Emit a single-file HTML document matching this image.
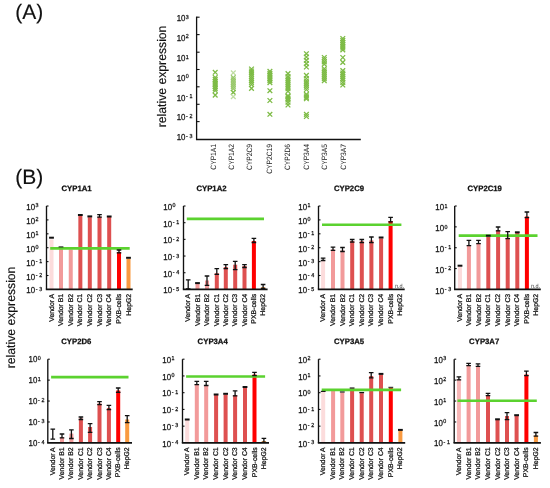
<!DOCTYPE html>
<html><head><meta charset="utf-8"><style>
html,body{margin:0;padding:0;background:#fff;}
svg{display:block;font-family:"Liberation Sans", sans-serif;will-change:transform;text-rendering:geometricPrecision;}
.s{stroke:#111;stroke-width:0.26px;}
.b{stroke:#111;stroke-width:0.15px;}
</style></head><body>
<svg width="550" height="488" viewBox="0 0 550 488">
<rect width="550" height="488" fill="#fff"/>
<text x="15.2" y="19.2" font-size="21" fill="#111" stroke="#111" stroke-width="0.15">(A)</text>
<text x="15.3" y="183.9" font-size="21" fill="#111" stroke="#111" stroke-width="0.15">(B)</text>
<line x1="196.6" y1="16.6" x2="196.6" y2="139.5" stroke="#111" stroke-width="1.3"/>
<line x1="196.6" y1="17.2" x2="199.6" y2="17.2" stroke="#111" stroke-width="1.1"/>
<line x1="196.6" y1="34.6" x2="199.6" y2="34.6" stroke="#111" stroke-width="1.1"/>
<line x1="196.6" y1="52.2" x2="199.6" y2="52.2" stroke="#111" stroke-width="1.1"/>
<line x1="196.6" y1="69.5" x2="199.6" y2="69.5" stroke="#111" stroke-width="1.1"/>
<line x1="196.6" y1="86.8" x2="199.6" y2="86.8" stroke="#111" stroke-width="1.1"/>
<line x1="196.6" y1="104.3" x2="199.6" y2="104.3" stroke="#111" stroke-width="1.1"/>
<line x1="196.6" y1="121.6" x2="199.6" y2="121.6" stroke="#111" stroke-width="1.1"/>
<line x1="195.95" y1="139.5" x2="360.8" y2="139.5" stroke="#111" stroke-width="1.3"/>
<text class="s" transform="translate(176.64,21.38) scale(0.92,1)" font-size="8.6" fill="#1a1a1a">10<tspan font-size="5.8" dy="-2.6" dx="0.4">3</tspan></text>
<text class="s" transform="translate(176.64,41.08) scale(0.92,1)" font-size="8.6" fill="#1a1a1a">10<tspan font-size="5.8" dy="-2.6" dx="0.4">2</tspan></text>
<text class="s" transform="translate(176.64,61.18) scale(0.92,1)" font-size="8.6" fill="#1a1a1a">10<tspan font-size="5.8" dy="-2.6" dx="0.4">1</tspan></text>
<text class="s" transform="translate(176.64,80.88) scale(0.92,1)" font-size="8.6" fill="#1a1a1a">10<tspan font-size="5.8" dy="-2.6" dx="0.4">0</tspan></text>
<text class="s" transform="translate(176.64,101.08) scale(0.92,1)" font-size="8.6" fill="#1a1a1a">10<tspan font-size="5.8" dy="-2.6" dx="0.6">-</tspan><tspan font-size="5.8" dx="2.0">1</tspan></text>
<text class="s" transform="translate(176.64,120.48) scale(0.92,1)" font-size="8.6" fill="#1a1a1a">10<tspan font-size="5.8" dy="-2.6" dx="0.6">-</tspan><tspan font-size="5.8" dx="2.0">2</tspan></text>
<text class="s" transform="translate(176.64,140.18) scale(0.92,1)" font-size="8.6" fill="#1a1a1a">10<tspan font-size="5.8" dy="-2.6" dx="0.6">-</tspan><tspan font-size="5.8" dx="2.0">3</tspan></text>
<text transform="translate(216.25,144.00) rotate(-90) scale(1,1.15)" text-anchor="end" font-size="6.7" fill="#1a1a1a">CYP1A1</text>
<text transform="translate(233.85,144.00) rotate(-90) scale(1,1.15)" text-anchor="end" font-size="6.7" fill="#1a1a1a">CYP1A2</text>
<text transform="translate(252.45,144.00) rotate(-90) scale(1,1.15)" text-anchor="end" font-size="6.7" fill="#1a1a1a">CYP2C9</text>
<text transform="translate(272.15,144.00) rotate(-90) scale(1,1.15)" text-anchor="end" font-size="6.7" fill="#1a1a1a">CYP2C19</text>
<text transform="translate(290.15,144.00) rotate(-90) scale(1,1.15)" text-anchor="end" font-size="6.7" fill="#1a1a1a">CYP2D6</text>
<text transform="translate(309.05,144.00) rotate(-90) scale(1,1.15)" text-anchor="end" font-size="6.7" fill="#1a1a1a">CYP3A4</text>
<text transform="translate(327.05,144.00) rotate(-90) scale(1,1.15)" text-anchor="end" font-size="6.7" fill="#1a1a1a">CYP3A5</text>
<text transform="translate(345.75,144.00) rotate(-90) scale(1,1.15)" text-anchor="end" font-size="6.7" fill="#1a1a1a">CYP3A7</text>
<text class="b" transform="translate(165.60,76.40) rotate(-90) scale(1,1.02)" text-anchor="middle" font-size="12.2" fill="#111">relative expression</text>
<path d="M212.85 69.95L217.55 74.65M212.85 74.65L217.55 69.95" stroke="#7dbb45" stroke-width="1.3" fill="none"/>
<path d="M212.85 75.15L217.55 79.85M212.85 79.85L217.55 75.15" stroke="#7dbb45" stroke-width="1.3" fill="none"/>
<path d="M212.85 77.01L217.55 81.71M212.85 81.71L217.55 77.01" stroke="#7dbb45" stroke-width="1.3" fill="none"/>
<path d="M212.85 78.86L217.55 83.56M212.85 83.56L217.55 78.86" stroke="#7dbb45" stroke-width="1.3" fill="none"/>
<path d="M212.85 80.72L217.55 85.42M212.85 85.42L217.55 80.72" stroke="#7dbb45" stroke-width="1.3" fill="none"/>
<path d="M212.85 82.58L217.55 87.28M212.85 87.28L217.55 82.58" stroke="#7dbb45" stroke-width="1.3" fill="none"/>
<path d="M212.85 84.44L217.55 89.14M212.85 89.14L217.55 84.44" stroke="#7dbb45" stroke-width="1.3" fill="none"/>
<path d="M212.85 86.29L217.55 90.99M212.85 90.99L217.55 86.29" stroke="#7dbb45" stroke-width="1.3" fill="none"/>
<path d="M212.85 88.15L217.55 92.85M212.85 92.85L217.55 88.15" stroke="#7dbb45" stroke-width="1.3" fill="none"/>
<path d="M212.85 92.75L217.55 97.45M212.85 97.45L217.55 92.75" stroke="#7dbb45" stroke-width="1.3" fill="none"/>
<path d="M230.95 70.45L235.65 75.15M230.95 75.15L235.65 70.45" stroke="#bedca0" stroke-width="1.3" fill="none"/>
<path d="M230.95 75.25L235.65 79.95M230.95 79.95L235.65 75.25" stroke="#98c86a" stroke-width="1.3" fill="none"/>
<path d="M230.95 77.45L235.65 82.15M230.95 82.15L235.65 77.45" stroke="#98c86a" stroke-width="1.3" fill="none"/>
<path d="M230.95 79.65L235.65 84.35M230.95 84.35L235.65 79.65" stroke="#98c86a" stroke-width="1.3" fill="none"/>
<path d="M230.95 81.85L235.65 86.55M230.95 86.55L235.65 81.85" stroke="#98c86a" stroke-width="1.3" fill="none"/>
<path d="M230.95 84.05L235.65 88.75M230.95 88.75L235.65 84.05" stroke="#98c86a" stroke-width="1.3" fill="none"/>
<path d="M230.95 86.25L235.65 90.95M230.95 90.95L235.65 86.25" stroke="#98c86a" stroke-width="1.3" fill="none"/>
<path d="M230.95 90.05L235.65 94.75M230.95 94.75L235.65 90.05" stroke="#7dbb45" stroke-width="1.3" fill="none"/>
<path d="M230.95 94.35L235.65 99.05M230.95 99.05L235.65 94.35" stroke="#bedca0" stroke-width="1.3" fill="none"/>
<path d="M249.15 66.65L253.85 71.35M249.15 71.35L253.85 66.65" stroke="#7dbb45" stroke-width="1.3" fill="none"/>
<path d="M249.15 68.59L253.85 73.29M249.15 73.29L253.85 68.59" stroke="#7dbb45" stroke-width="1.3" fill="none"/>
<path d="M249.15 70.53L253.85 75.22M249.15 75.22L253.85 70.53" stroke="#7dbb45" stroke-width="1.3" fill="none"/>
<path d="M249.15 72.46L253.85 77.16M249.15 77.16L253.85 72.46" stroke="#7dbb45" stroke-width="1.3" fill="none"/>
<path d="M249.15 74.40L253.85 79.10M249.15 79.10L253.85 74.40" stroke="#7dbb45" stroke-width="1.3" fill="none"/>
<path d="M249.15 76.34L253.85 81.04M249.15 81.04L253.85 76.34" stroke="#7dbb45" stroke-width="1.3" fill="none"/>
<path d="M249.15 78.28L253.85 82.97M249.15 82.97L253.85 78.28" stroke="#7dbb45" stroke-width="1.3" fill="none"/>
<path d="M249.15 80.21L253.85 84.91M249.15 84.91L253.85 80.21" stroke="#7dbb45" stroke-width="1.3" fill="none"/>
<path d="M249.15 82.15L253.85 86.85M249.15 86.85L253.85 82.15" stroke="#7dbb45" stroke-width="1.3" fill="none"/>
<path d="M249.15 86.05L253.85 90.75M249.15 90.75L253.85 86.05" stroke="#7dbb45" stroke-width="1.3" fill="none"/>
<path d="M267.55 69.05L272.25 73.75M267.55 73.75L272.25 69.05" stroke="#7dbb45" stroke-width="1.3" fill="none"/>
<path d="M267.55 70.92L272.25 75.62M267.55 75.62L272.25 70.92" stroke="#7dbb45" stroke-width="1.3" fill="none"/>
<path d="M267.55 72.78L272.25 77.48M267.55 77.48L272.25 72.78" stroke="#7dbb45" stroke-width="1.3" fill="none"/>
<path d="M267.55 74.65L272.25 79.35M267.55 79.35L272.25 74.65" stroke="#7dbb45" stroke-width="1.3" fill="none"/>
<path d="M267.55 76.52L272.25 81.22M267.55 81.22L272.25 76.52" stroke="#7dbb45" stroke-width="1.3" fill="none"/>
<path d="M267.55 78.38L272.25 83.08M267.55 83.08L272.25 78.38" stroke="#7dbb45" stroke-width="1.3" fill="none"/>
<path d="M267.55 80.25L272.25 84.95M267.55 84.95L272.25 80.25" stroke="#7dbb45" stroke-width="1.3" fill="none"/>
<path d="M267.55 88.35L272.25 93.05M267.55 93.05L272.25 88.35" stroke="#7dbb45" stroke-width="1.3" fill="none"/>
<path d="M267.55 98.15L272.25 102.85M267.55 102.85L272.25 98.15" stroke="#7dbb45" stroke-width="1.3" fill="none"/>
<path d="M267.55 111.95L272.25 116.65M267.55 116.65L272.25 111.95" stroke="#7dbb45" stroke-width="1.3" fill="none"/>
<path d="M285.65 71.25L290.35 75.95M285.65 75.95L290.35 71.25" stroke="#7dbb45" stroke-width="1.3" fill="none"/>
<path d="M285.65 74.25L290.35 78.95M285.65 78.95L290.35 74.25" stroke="#7dbb45" stroke-width="1.3" fill="none"/>
<path d="M285.65 76.45L290.35 81.15M285.65 81.15L290.35 76.45" stroke="#7dbb45" stroke-width="1.3" fill="none"/>
<path d="M285.65 78.45L290.35 83.15M285.65 83.15L290.35 78.45" stroke="#7dbb45" stroke-width="1.3" fill="none"/>
<path d="M285.65 80.45L290.35 85.15M285.65 85.15L290.35 80.45" stroke="#7dbb45" stroke-width="1.3" fill="none"/>
<path d="M285.65 82.45L290.35 87.15M285.65 87.15L290.35 82.45" stroke="#7dbb45" stroke-width="1.3" fill="none"/>
<path d="M285.65 84.45L290.35 89.15M285.65 89.15L290.35 84.45" stroke="#7dbb45" stroke-width="1.3" fill="none"/>
<path d="M285.65 86.45L290.35 91.15M285.65 91.15L290.35 86.45" stroke="#7dbb45" stroke-width="1.3" fill="none"/>
<path d="M285.65 88.95L290.35 93.65M285.65 93.65L290.35 88.95" stroke="#7dbb45" stroke-width="1.3" fill="none"/>
<path d="M285.65 93.55L290.35 98.25M285.65 98.25L290.35 93.55" stroke="#7dbb45" stroke-width="1.3" fill="none"/>
<path d="M285.65 94.15L290.35 98.85M285.65 98.85L290.35 94.15" stroke="#7dbb45" stroke-width="1.3" fill="none"/>
<path d="M285.65 95.80L290.35 100.50M285.65 100.50L290.35 95.80" stroke="#7dbb45" stroke-width="1.3" fill="none"/>
<path d="M285.65 97.45L290.35 102.15M285.65 102.15L290.35 97.45" stroke="#7dbb45" stroke-width="1.3" fill="none"/>
<path d="M285.65 99.95L290.35 104.65M285.65 104.65L290.35 99.95" stroke="#7dbb45" stroke-width="1.3" fill="none"/>
<path d="M285.65 102.65L290.35 107.35M285.65 107.35L290.35 102.65" stroke="#7dbb45" stroke-width="1.3" fill="none"/>
<path d="M304.05 51.35L308.75 56.05M304.05 56.05L308.75 51.35" stroke="#7dbb45" stroke-width="1.3" fill="none"/>
<path d="M304.05 54.65L308.75 59.35M304.05 59.35L308.75 54.65" stroke="#7dbb45" stroke-width="1.3" fill="none"/>
<path d="M304.05 57.95L308.75 62.65M304.05 62.65L308.75 57.95" stroke="#7dbb45" stroke-width="1.3" fill="none"/>
<path d="M304.05 61.25L308.75 65.95M304.05 65.95L308.75 61.25" stroke="#7dbb45" stroke-width="1.3" fill="none"/>
<path d="M304.05 64.65L308.75 69.35M304.05 69.35L308.75 64.65" stroke="#7dbb45" stroke-width="1.3" fill="none"/>
<path d="M304.05 73.05L308.75 77.75M304.05 77.75L308.75 73.05" stroke="#7dbb45" stroke-width="1.3" fill="none"/>
<path d="M304.05 76.15L308.75 80.85M304.05 80.85L308.75 76.15" stroke="#7dbb45" stroke-width="1.3" fill="none"/>
<path d="M304.05 78.65L308.75 83.35M304.05 83.35L308.75 78.65" stroke="#7dbb45" stroke-width="1.3" fill="none"/>
<path d="M304.05 80.75L308.75 85.45M304.05 85.45L308.75 80.75" stroke="#7dbb45" stroke-width="1.3" fill="none"/>
<path d="M304.05 82.85L308.75 87.55M304.05 87.55L308.75 82.85" stroke="#7dbb45" stroke-width="1.3" fill="none"/>
<path d="M304.05 84.95L308.75 89.65M304.05 89.65L308.75 84.95" stroke="#7dbb45" stroke-width="1.3" fill="none"/>
<path d="M304.05 87.15L308.75 91.85M304.05 91.85L308.75 87.15" stroke="#7dbb45" stroke-width="1.3" fill="none"/>
<path d="M304.05 91.95L308.75 96.65M304.05 96.65L308.75 91.95" stroke="#7dbb45" stroke-width="1.3" fill="none"/>
<path d="M304.05 93.65L308.75 98.35M304.05 98.35L308.75 93.65" stroke="#7dbb45" stroke-width="1.3" fill="none"/>
<path d="M304.05 95.15L308.75 99.85M304.05 99.85L308.75 95.15" stroke="#7dbb45" stroke-width="1.3" fill="none"/>
<path d="M304.05 96.45L308.75 101.15M304.05 101.15L308.75 96.45" stroke="#7dbb45" stroke-width="1.3" fill="none"/>
<path d="M304.05 112.05L308.75 116.75M304.05 116.75L308.75 112.05" stroke="#7dbb45" stroke-width="1.3" fill="none"/>
<path d="M304.05 114.15L308.75 118.85M304.05 118.85L308.75 114.15" stroke="#7dbb45" stroke-width="1.3" fill="none"/>
<path d="M321.95 55.15L326.65 59.85M321.95 59.85L326.65 55.15" stroke="#7dbb45" stroke-width="1.3" fill="none"/>
<path d="M321.95 57.15L326.65 61.85M321.95 61.85L326.65 57.15" stroke="#7dbb45" stroke-width="1.3" fill="none"/>
<path d="M321.95 59.50L326.65 64.20M321.95 64.20L326.65 59.50" stroke="#7dbb45" stroke-width="1.3" fill="none"/>
<path d="M321.95 61.85L326.65 66.55M321.95 66.55L326.65 61.85" stroke="#7dbb45" stroke-width="1.3" fill="none"/>
<path d="M321.95 66.45L326.65 71.15M321.95 71.15L326.65 66.45" stroke="#7dbb45" stroke-width="1.3" fill="none"/>
<path d="M321.95 68.45L326.65 73.15M321.95 73.15L326.65 68.45" stroke="#7dbb45" stroke-width="1.3" fill="none"/>
<path d="M321.95 70.45L326.65 75.15M321.95 75.15L326.65 70.45" stroke="#7dbb45" stroke-width="1.3" fill="none"/>
<path d="M321.95 72.45L326.65 77.15M321.95 77.15L326.65 72.45" stroke="#7dbb45" stroke-width="1.3" fill="none"/>
<path d="M321.95 74.45L326.65 79.15M321.95 79.15L326.65 74.45" stroke="#7dbb45" stroke-width="1.3" fill="none"/>
<path d="M321.95 76.45L326.65 81.15M321.95 81.15L326.65 76.45" stroke="#7dbb45" stroke-width="1.3" fill="none"/>
<path d="M321.95 78.45L326.65 83.15M321.95 83.15L326.65 78.45" stroke="#7dbb45" stroke-width="1.3" fill="none"/>
<path d="M340.45 36.15L345.15 40.85M340.45 40.85L345.15 36.15" stroke="#7dbb45" stroke-width="1.3" fill="none"/>
<path d="M340.45 38.05L345.15 42.75M340.45 42.75L345.15 38.05" stroke="#7dbb45" stroke-width="1.3" fill="none"/>
<path d="M340.45 39.95L345.15 44.65M340.45 44.65L345.15 39.95" stroke="#7dbb45" stroke-width="1.3" fill="none"/>
<path d="M340.45 41.85L345.15 46.55M340.45 46.55L345.15 41.85" stroke="#7dbb45" stroke-width="1.3" fill="none"/>
<path d="M340.45 43.75L345.15 48.45M340.45 48.45L345.15 43.75" stroke="#7dbb45" stroke-width="1.3" fill="none"/>
<path d="M340.45 45.65L345.15 50.35M340.45 50.35L345.15 45.65" stroke="#7dbb45" stroke-width="1.3" fill="none"/>
<path d="M340.45 47.55L345.15 52.25M340.45 52.25L345.15 47.55" stroke="#7dbb45" stroke-width="1.3" fill="none"/>
<path d="M340.45 55.15L345.15 59.85M340.45 59.85L345.15 55.15" stroke="#7dbb45" stroke-width="1.3" fill="none"/>
<path d="M340.45 60.05L345.15 64.75M340.45 64.75L345.15 60.05" stroke="#7dbb45" stroke-width="1.3" fill="none"/>
<path d="M340.45 68.25L345.15 72.95M340.45 72.95L345.15 68.25" stroke="#7dbb45" stroke-width="1.3" fill="none"/>
<path d="M340.45 70.65L345.15 75.35M340.45 75.35L345.15 70.65" stroke="#7dbb45" stroke-width="1.3" fill="none"/>
<path d="M340.45 72.40L345.15 77.10M340.45 77.10L345.15 72.40" stroke="#7dbb45" stroke-width="1.3" fill="none"/>
<path d="M340.45 74.15L345.15 78.85M340.45 78.85L345.15 74.15" stroke="#7dbb45" stroke-width="1.3" fill="none"/>
<path d="M340.45 75.90L345.15 80.60M340.45 80.60L345.15 75.90" stroke="#7dbb45" stroke-width="1.3" fill="none"/>
<path d="M340.45 77.65L345.15 82.35M340.45 82.35L345.15 77.65" stroke="#7dbb45" stroke-width="1.3" fill="none"/>
<path d="M340.45 80.15L345.15 84.85M340.45 84.85L345.15 80.15" stroke="#7dbb45" stroke-width="1.3" fill="none"/>
<path d="M340.45 82.65L345.15 87.35M340.45 87.35L345.15 82.65" stroke="#7dbb45" stroke-width="1.3" fill="none"/>
<rect x="49.50" y="239.40" width="4.0" height="50.00" fill="#fcdcdc"/>
<rect x="59.00" y="247.00" width="4.0" height="42.40" fill="#f29a9a"/>
<rect x="68.75" y="249.50" width="4.0" height="39.90" fill="#f29a9a"/>
<rect x="78.35" y="216.00" width="4.0" height="73.40" fill="#de5050"/>
<rect x="87.80" y="217.20" width="4.0" height="72.20" fill="#de5050"/>
<rect x="97.50" y="216.80" width="4.0" height="72.60" fill="#de5050"/>
<rect x="107.20" y="217.00" width="4.0" height="72.40" fill="#de5050"/>
<rect x="117.00" y="252.00" width="4.0" height="37.40" fill="#ff0000"/>
<rect x="126.50" y="258.80" width="4.0" height="30.60" fill="#f99a40"/>
<line x1="50.2" y1="248.4" x2="129.7" y2="248.4" stroke="#5bd22f" stroke-width="2.6"/>
<rect x="49.10" y="236.70" width="4.8" height="2.0" fill="#111"/>
<rect x="58.60" y="246.40" width="4.8" height="1.0" fill="#111"/>
<rect x="77.95" y="214.00" width="4.8" height="2.0" fill="#111"/>
<rect x="87.40" y="215.40" width="4.8" height="2.0" fill="#111"/>
<path d="M97.20 214.60H101.80M99.50 214.60V217.20M97.20 217.20H101.80" stroke="#111" stroke-width="1.3" fill="none"/>
<rect x="106.80" y="215.50" width="4.8" height="2.0" fill="#111"/>
<path d="M116.70 250.00H121.30M119.00 250.00V252.90M116.70 252.90H121.30" stroke="#111" stroke-width="1.3" fill="none"/>
<rect x="126.10" y="256.80" width="4.8" height="2.0" fill="#111"/>
<line x1="46.5" y1="206.0" x2="46.5" y2="289.4" stroke="#111" stroke-width="1.35"/>
<line x1="45.83" y1="289.4" x2="132.7" y2="289.4" stroke="#111" stroke-width="1.65"/>
<line x1="46.5" y1="206.0" x2="48.5" y2="206.0" stroke="#111" stroke-width="1.1"/>
<line x1="46.5" y1="219.9" x2="48.5" y2="219.9" stroke="#111" stroke-width="1.1"/>
<line x1="46.5" y1="233.79999999999998" x2="48.5" y2="233.79999999999998" stroke="#111" stroke-width="1.1"/>
<line x1="46.5" y1="247.7" x2="48.5" y2="247.7" stroke="#111" stroke-width="1.1"/>
<line x1="46.5" y1="261.59999999999997" x2="48.5" y2="261.59999999999997" stroke="#111" stroke-width="1.1"/>
<line x1="46.5" y1="275.5" x2="48.5" y2="275.5" stroke="#111" stroke-width="1.1"/>
<text class="s" transform="translate(26.34,210.08) scale(0.92,1)" font-size="8.6" fill="#1a1a1a">10<tspan font-size="5.8" dy="-2.6" dx="0.4">3</tspan></text>
<text class="s" transform="translate(26.34,223.98) scale(0.92,1)" font-size="8.6" fill="#1a1a1a">10<tspan font-size="5.8" dy="-2.6" dx="0.4">2</tspan></text>
<text class="s" transform="translate(26.34,237.88) scale(0.92,1)" font-size="8.6" fill="#1a1a1a">10<tspan font-size="5.8" dy="-2.6" dx="0.4">1</tspan></text>
<text class="s" transform="translate(26.34,251.78) scale(0.92,1)" font-size="8.6" fill="#1a1a1a">10<tspan font-size="5.8" dy="-2.6" dx="0.4">0</tspan></text>
<text class="s" transform="translate(26.34,265.68) scale(0.92,1)" font-size="8.6" fill="#1a1a1a">10<tspan font-size="5.8" dy="-2.6" dx="0.6">-</tspan><tspan font-size="5.8" dx="2.0">1</tspan></text>
<text class="s" transform="translate(26.34,279.58) scale(0.92,1)" font-size="8.6" fill="#1a1a1a">10<tspan font-size="5.8" dy="-2.6" dx="0.6">-</tspan><tspan font-size="5.8" dx="2.0">2</tspan></text>
<text class="s" transform="translate(26.34,293.48) scale(0.92,1)" font-size="8.6" fill="#1a1a1a">10<tspan font-size="5.8" dy="-2.6" dx="0.6">-</tspan><tspan font-size="5.8" dx="2.0">3</tspan></text>
<text x="76.6" y="190.6" text-anchor="middle" font-size="7.75" font-weight="bold" fill="#111" stroke="#111" stroke-width="0.25">CYP1A1</text>
<text class="s" transform="translate(53.50,293.80) rotate(-90) scale(1,1.0)" text-anchor="end" font-size="6.9" fill="#1a1a1a">Vendor A</text>
<text class="s" transform="translate(63.00,293.80) rotate(-90) scale(1,1.0)" text-anchor="end" font-size="6.9" fill="#1a1a1a">Vendor B1</text>
<text class="s" transform="translate(72.75,293.80) rotate(-90) scale(1,1.0)" text-anchor="end" font-size="6.9" fill="#1a1a1a">Vendor B2</text>
<text class="s" transform="translate(82.35,293.80) rotate(-90) scale(1,1.0)" text-anchor="end" font-size="6.9" fill="#1a1a1a">Vendor C1</text>
<text class="s" transform="translate(91.80,293.80) rotate(-90) scale(1,1.0)" text-anchor="end" font-size="6.9" fill="#1a1a1a">Vendor C2</text>
<text class="s" transform="translate(101.50,293.80) rotate(-90) scale(1,1.0)" text-anchor="end" font-size="6.9" fill="#1a1a1a">Vendor C3</text>
<text class="s" transform="translate(111.20,293.80) rotate(-90) scale(1,1.0)" text-anchor="end" font-size="6.9" fill="#1a1a1a">Vendor C4</text>
<text class="s" transform="translate(121.00,293.80) rotate(-90) scale(1,1.0)" text-anchor="end" font-size="6.9" fill="#1a1a1a">PXB-cells</text>
<text class="s" transform="translate(130.50,293.80) rotate(-90) scale(1,1.0)" text-anchor="end" font-size="6.9" fill="#1a1a1a">HepG2</text>
<rect x="195.50" y="284.00" width="4.0" height="5.40" fill="#f29a9a"/>
<rect x="205.00" y="280.50" width="4.0" height="8.90" fill="#f29a9a"/>
<rect x="214.80" y="273.20" width="4.0" height="16.20" fill="#de5050"/>
<rect x="223.80" y="267.00" width="4.0" height="22.40" fill="#de5050"/>
<rect x="233.20" y="264.70" width="4.0" height="24.70" fill="#de5050"/>
<rect x="242.50" y="266.00" width="4.0" height="23.40" fill="#de5050"/>
<rect x="251.90" y="241.00" width="4.0" height="48.40" fill="#ff0000"/>
<rect x="261.10" y="287.20" width="4.0" height="2.20" fill="#f99a40"/>
<line x1="186.8" y1="218.9" x2="264.0" y2="218.9" stroke="#5bd22f" stroke-width="2.6"/>
<path d="M185.90 279.90H190.50M188.20 279.90V289.00M185.90 289.00H190.50" stroke="#111" stroke-width="1.3" fill="none"/>
<rect x="195.10" y="282.10" width="4.8" height="2.0" fill="#111"/>
<path d="M204.70 276.00H209.30M207.00 276.00V285.40M204.70 285.40H209.30" stroke="#111" stroke-width="1.3" fill="none"/>
<path d="M214.50 268.70H219.10M216.80 268.70V274.30M214.50 274.30H219.10" stroke="#111" stroke-width="1.3" fill="none"/>
<path d="M223.50 264.70H228.10M225.80 264.70V268.60M223.50 268.60H228.10" stroke="#111" stroke-width="1.3" fill="none"/>
<path d="M232.90 261.40H237.50M235.20 261.40V269.60M232.90 269.60H237.50" stroke="#111" stroke-width="1.3" fill="none"/>
<path d="M242.20 264.70H246.80M244.50 264.70V267.50M242.20 267.50H246.80" stroke="#111" stroke-width="1.3" fill="none"/>
<path d="M251.60 238.30H256.20M253.90 238.30V242.50M251.60 242.50H256.20" stroke="#111" stroke-width="1.3" fill="none"/>
<path d="M260.80 284.50H265.40M263.10 284.50V288.40M260.80 288.40H265.40" stroke="#111" stroke-width="1.3" fill="none"/>
<line x1="183.5" y1="206.0" x2="183.5" y2="289.4" stroke="#111" stroke-width="1.35"/>
<line x1="182.83" y1="289.4" x2="267.6" y2="289.4" stroke="#111" stroke-width="1.65"/>
<line x1="183.5" y1="206.0" x2="185.5" y2="206.0" stroke="#111" stroke-width="1.1"/>
<line x1="183.5" y1="222.68" x2="185.5" y2="222.68" stroke="#111" stroke-width="1.1"/>
<line x1="183.5" y1="239.35999999999999" x2="185.5" y2="239.35999999999999" stroke="#111" stroke-width="1.1"/>
<line x1="183.5" y1="256.03999999999996" x2="185.5" y2="256.03999999999996" stroke="#111" stroke-width="1.1"/>
<line x1="183.5" y1="272.71999999999997" x2="185.5" y2="272.71999999999997" stroke="#111" stroke-width="1.1"/>
<text class="s" transform="translate(163.34,210.08) scale(0.92,1)" font-size="8.6" fill="#1a1a1a">10<tspan font-size="5.8" dy="-2.6" dx="0.4">0</tspan></text>
<text class="s" transform="translate(163.34,226.76) scale(0.92,1)" font-size="8.6" fill="#1a1a1a">10<tspan font-size="5.8" dy="-2.6" dx="0.6">-</tspan><tspan font-size="5.8" dx="2.0">1</tspan></text>
<text class="s" transform="translate(163.34,243.44) scale(0.92,1)" font-size="8.6" fill="#1a1a1a">10<tspan font-size="5.8" dy="-2.6" dx="0.6">-</tspan><tspan font-size="5.8" dx="2.0">2</tspan></text>
<text class="s" transform="translate(163.34,260.12) scale(0.92,1)" font-size="8.6" fill="#1a1a1a">10<tspan font-size="5.8" dy="-2.6" dx="0.6">-</tspan><tspan font-size="5.8" dx="2.0">3</tspan></text>
<text class="s" transform="translate(163.34,276.80) scale(0.92,1)" font-size="8.6" fill="#1a1a1a">10<tspan font-size="5.8" dy="-2.6" dx="0.6">-</tspan><tspan font-size="5.8" dx="2.0">4</tspan></text>
<text class="s" transform="translate(163.34,293.48) scale(0.92,1)" font-size="8.6" fill="#1a1a1a">10<tspan font-size="5.8" dy="-2.6" dx="0.6">-</tspan><tspan font-size="5.8" dx="2.0">5</tspan></text>
<text x="211.5" y="190.6" text-anchor="middle" font-size="7.75" font-weight="bold" fill="#111" stroke="#111" stroke-width="0.25">CYP1A2</text>
<text class="s" transform="translate(190.20,293.80) rotate(-90) scale(1,1.0)" text-anchor="end" font-size="6.9" fill="#1a1a1a">Vendor A</text>
<text class="s" transform="translate(199.50,293.80) rotate(-90) scale(1,1.0)" text-anchor="end" font-size="6.9" fill="#1a1a1a">Vendor B1</text>
<text class="s" transform="translate(209.00,293.80) rotate(-90) scale(1,1.0)" text-anchor="end" font-size="6.9" fill="#1a1a1a">Vendor B2</text>
<text class="s" transform="translate(218.80,293.80) rotate(-90) scale(1,1.0)" text-anchor="end" font-size="6.9" fill="#1a1a1a">Vendor C1</text>
<text class="s" transform="translate(227.80,293.80) rotate(-90) scale(1,1.0)" text-anchor="end" font-size="6.9" fill="#1a1a1a">Vendor C2</text>
<text class="s" transform="translate(237.20,293.80) rotate(-90) scale(1,1.0)" text-anchor="end" font-size="6.9" fill="#1a1a1a">Vendor C3</text>
<text class="s" transform="translate(246.50,293.80) rotate(-90) scale(1,1.0)" text-anchor="end" font-size="6.9" fill="#1a1a1a">Vendor C4</text>
<text class="s" transform="translate(255.90,293.80) rotate(-90) scale(1,1.0)" text-anchor="end" font-size="6.9" fill="#1a1a1a">PXB-cells</text>
<text class="s" transform="translate(265.10,293.80) rotate(-90) scale(1,1.0)" text-anchor="end" font-size="6.9" fill="#1a1a1a">HepG2</text>
<rect x="321.10" y="260.50" width="4.0" height="28.90" fill="#fcdcdc"/>
<rect x="331.00" y="249.50" width="4.0" height="39.90" fill="#f29a9a"/>
<rect x="340.50" y="250.50" width="4.0" height="38.90" fill="#f29a9a"/>
<rect x="350.20" y="241.00" width="4.0" height="48.40" fill="#de5050"/>
<rect x="359.80" y="241.20" width="4.0" height="48.20" fill="#de5050"/>
<rect x="369.40" y="240.50" width="4.0" height="48.90" fill="#de5050"/>
<rect x="379.10" y="238.40" width="4.0" height="51.00" fill="#de5050"/>
<rect x="388.60" y="221.00" width="4.0" height="68.40" fill="#ff0000"/>
<line x1="322.0" y1="224.7" x2="401.4" y2="224.7" stroke="#5bd22f" stroke-width="2.6"/>
<path d="M320.80 258.20H325.40M323.10 258.20V260.50M320.80 260.50H325.40" stroke="#111" stroke-width="1.3" fill="none"/>
<path d="M330.70 247.20H335.30M333.00 247.20V250.30M330.70 250.30H335.30" stroke="#111" stroke-width="1.3" fill="none"/>
<path d="M340.20 247.50H344.80M342.50 247.50V251.50M340.20 251.50H344.80" stroke="#111" stroke-width="1.3" fill="none"/>
<path d="M349.90 239.50H354.50M352.20 239.50V242.10M349.90 242.10H354.50" stroke="#111" stroke-width="1.3" fill="none"/>
<path d="M359.50 239.50H364.10M361.80 239.50V242.60M359.50 242.60H364.10" stroke="#111" stroke-width="1.3" fill="none"/>
<path d="M369.10 237.00H373.70M371.40 237.00V242.70M369.10 242.70H373.70" stroke="#111" stroke-width="1.3" fill="none"/>
<rect x="378.70" y="236.50" width="4.8" height="2.0" fill="#111"/>
<path d="M388.30 217.30H392.90M390.60 217.30V221.80M388.30 221.80H392.90" stroke="#111" stroke-width="1.3" fill="none"/>
<line x1="318.5" y1="206.0" x2="318.5" y2="289.4" stroke="#111" stroke-width="1.35"/>
<line x1="317.83" y1="289.4" x2="404.7" y2="289.4" stroke="#111" stroke-width="1.65"/>
<line x1="318.5" y1="206.0" x2="320.5" y2="206.0" stroke="#111" stroke-width="1.1"/>
<line x1="318.5" y1="219.9" x2="320.5" y2="219.9" stroke="#111" stroke-width="1.1"/>
<line x1="318.5" y1="233.79999999999998" x2="320.5" y2="233.79999999999998" stroke="#111" stroke-width="1.1"/>
<line x1="318.5" y1="247.7" x2="320.5" y2="247.7" stroke="#111" stroke-width="1.1"/>
<line x1="318.5" y1="261.59999999999997" x2="320.5" y2="261.59999999999997" stroke="#111" stroke-width="1.1"/>
<line x1="318.5" y1="275.5" x2="320.5" y2="275.5" stroke="#111" stroke-width="1.1"/>
<text class="s" transform="translate(298.34,210.08) scale(0.92,1)" font-size="8.6" fill="#1a1a1a">10<tspan font-size="5.8" dy="-2.6" dx="0.4">1</tspan></text>
<text class="s" transform="translate(298.34,223.98) scale(0.92,1)" font-size="8.6" fill="#1a1a1a">10<tspan font-size="5.8" dy="-2.6" dx="0.4">0</tspan></text>
<text class="s" transform="translate(298.34,237.88) scale(0.92,1)" font-size="8.6" fill="#1a1a1a">10<tspan font-size="5.8" dy="-2.6" dx="0.6">-</tspan><tspan font-size="5.8" dx="2.0">1</tspan></text>
<text class="s" transform="translate(298.34,251.78) scale(0.92,1)" font-size="8.6" fill="#1a1a1a">10<tspan font-size="5.8" dy="-2.6" dx="0.6">-</tspan><tspan font-size="5.8" dx="2.0">2</tspan></text>
<text class="s" transform="translate(298.34,265.68) scale(0.92,1)" font-size="8.6" fill="#1a1a1a">10<tspan font-size="5.8" dy="-2.6" dx="0.6">-</tspan><tspan font-size="5.8" dx="2.0">3</tspan></text>
<text class="s" transform="translate(298.34,279.58) scale(0.92,1)" font-size="8.6" fill="#1a1a1a">10<tspan font-size="5.8" dy="-2.6" dx="0.6">-</tspan><tspan font-size="5.8" dx="2.0">4</tspan></text>
<text class="s" transform="translate(298.34,293.48) scale(0.92,1)" font-size="8.6" fill="#1a1a1a">10<tspan font-size="5.8" dy="-2.6" dx="0.6">-</tspan><tspan font-size="5.8" dx="2.0">5</tspan></text>
<text x="349.0" y="190.6" text-anchor="middle" font-size="7.75" font-weight="bold" fill="#111" stroke="#111" stroke-width="0.25">CYP2C9</text>
<text class="s" transform="translate(325.10,293.80) rotate(-90) scale(1,1.0)" text-anchor="end" font-size="6.9" fill="#1a1a1a">Vendor A</text>
<text class="s" transform="translate(335.00,293.80) rotate(-90) scale(1,1.0)" text-anchor="end" font-size="6.9" fill="#1a1a1a">Vendor B1</text>
<text class="s" transform="translate(344.50,293.80) rotate(-90) scale(1,1.0)" text-anchor="end" font-size="6.9" fill="#1a1a1a">Vendor B2</text>
<text class="s" transform="translate(354.20,293.80) rotate(-90) scale(1,1.0)" text-anchor="end" font-size="6.9" fill="#1a1a1a">Vendor C1</text>
<text class="s" transform="translate(363.80,293.80) rotate(-90) scale(1,1.0)" text-anchor="end" font-size="6.9" fill="#1a1a1a">Vendor C2</text>
<text class="s" transform="translate(373.40,293.80) rotate(-90) scale(1,1.0)" text-anchor="end" font-size="6.9" fill="#1a1a1a">Vendor C3</text>
<text class="s" transform="translate(383.10,293.80) rotate(-90) scale(1,1.0)" text-anchor="end" font-size="6.9" fill="#1a1a1a">Vendor C4</text>
<text class="s" transform="translate(392.60,293.80) rotate(-90) scale(1,1.0)" text-anchor="end" font-size="6.9" fill="#1a1a1a">PXB-cells</text>
<text class="s" transform="translate(402.20,293.80) rotate(-90) scale(1,1.0)" text-anchor="end" font-size="6.9" fill="#1a1a1a">HepG2</text>
<text transform="translate(395.0,287.6) scale(0.92,1)" font-size="6.0" fill="#444">n.d.</text>
<rect x="458.00" y="266.30" width="4.0" height="23.10" fill="#fcdcdc"/>
<rect x="466.90" y="245.00" width="4.0" height="44.40" fill="#f29a9a"/>
<rect x="476.50" y="243.50" width="4.0" height="45.90" fill="#f29a9a"/>
<rect x="486.30" y="236.20" width="4.0" height="53.20" fill="#de5050"/>
<rect x="496.10" y="230.00" width="4.0" height="59.40" fill="#de5050"/>
<rect x="505.70" y="237.70" width="4.0" height="51.70" fill="#de5050"/>
<rect x="515.30" y="233.00" width="4.0" height="56.40" fill="#de5050"/>
<rect x="524.90" y="216.50" width="4.0" height="72.90" fill="#ff0000"/>
<line x1="458.7" y1="235.6" x2="537.5" y2="235.6" stroke="#5bd22f" stroke-width="2.6"/>
<rect x="457.60" y="264.70" width="4.8" height="2.0" fill="#111"/>
<path d="M466.60 240.30H471.20M468.90 240.30V245.70M466.60 245.70H471.20" stroke="#111" stroke-width="1.3" fill="none"/>
<path d="M476.20 240.30H480.80M478.50 240.30V243.70M476.20 243.70H480.80" stroke="#111" stroke-width="1.3" fill="none"/>
<rect x="485.90" y="234.70" width="4.8" height="2.0" fill="#111"/>
<path d="M495.80 227.00H500.40M498.10 227.00V230.80M495.80 230.80H500.40" stroke="#111" stroke-width="1.3" fill="none"/>
<path d="M505.40 231.70H510.00M507.70 231.70V238.60M505.40 238.60H510.00" stroke="#111" stroke-width="1.3" fill="none"/>
<rect x="514.90" y="231.30" width="4.8" height="2.0" fill="#111"/>
<path d="M524.60 212.00H529.20M526.90 212.00V217.70M524.60 217.70H529.20" stroke="#111" stroke-width="1.3" fill="none"/>
<line x1="454.7" y1="206.0" x2="454.7" y2="289.4" stroke="#111" stroke-width="1.35"/>
<line x1="454.03" y1="289.4" x2="540.8" y2="289.4" stroke="#111" stroke-width="1.65"/>
<line x1="454.7" y1="206.0" x2="456.7" y2="206.0" stroke="#111" stroke-width="1.1"/>
<line x1="454.7" y1="226.85" x2="456.7" y2="226.85" stroke="#111" stroke-width="1.1"/>
<line x1="454.7" y1="247.7" x2="456.7" y2="247.7" stroke="#111" stroke-width="1.1"/>
<line x1="454.7" y1="268.54999999999995" x2="456.7" y2="268.54999999999995" stroke="#111" stroke-width="1.1"/>
<text class="s" transform="translate(435.34,210.28) scale(0.92,1)" font-size="8.6" fill="#1a1a1a">10<tspan font-size="5.8" dy="-2.6" dx="0.4">1</tspan></text>
<text class="s" transform="translate(435.34,231.13) scale(0.92,1)" font-size="8.6" fill="#1a1a1a">10<tspan font-size="5.8" dy="-2.6" dx="0.4">0</tspan></text>
<text class="s" transform="translate(435.34,251.98) scale(0.92,1)" font-size="8.6" fill="#1a1a1a">10<tspan font-size="5.8" dy="-2.6" dx="0.6">-</tspan><tspan font-size="5.8" dx="2.0">1</tspan></text>
<text class="s" transform="translate(435.34,272.83) scale(0.92,1)" font-size="8.6" fill="#1a1a1a">10<tspan font-size="5.8" dy="-2.6" dx="0.6">-</tspan><tspan font-size="5.8" dx="2.0">2</tspan></text>
<text class="s" transform="translate(435.34,293.68) scale(0.92,1)" font-size="8.6" fill="#1a1a1a">10<tspan font-size="5.8" dy="-2.6" dx="0.6">-</tspan><tspan font-size="5.8" dx="2.0">3</tspan></text>
<text x="484.7" y="190.6" text-anchor="middle" font-size="7.75" font-weight="bold" fill="#111" stroke="#111" stroke-width="0.25">CYP2C19</text>
<text class="s" transform="translate(462.00,293.80) rotate(-90) scale(1,1.0)" text-anchor="end" font-size="6.9" fill="#1a1a1a">Vendor A</text>
<text class="s" transform="translate(470.90,293.80) rotate(-90) scale(1,1.0)" text-anchor="end" font-size="6.9" fill="#1a1a1a">Vendor B1</text>
<text class="s" transform="translate(480.50,293.80) rotate(-90) scale(1,1.0)" text-anchor="end" font-size="6.9" fill="#1a1a1a">Vendor B2</text>
<text class="s" transform="translate(490.30,293.80) rotate(-90) scale(1,1.0)" text-anchor="end" font-size="6.9" fill="#1a1a1a">Vendor C1</text>
<text class="s" transform="translate(500.10,293.80) rotate(-90) scale(1,1.0)" text-anchor="end" font-size="6.9" fill="#1a1a1a">Vendor C2</text>
<text class="s" transform="translate(509.70,293.80) rotate(-90) scale(1,1.0)" text-anchor="end" font-size="6.9" fill="#1a1a1a">Vendor C3</text>
<text class="s" transform="translate(519.30,293.80) rotate(-90) scale(1,1.0)" text-anchor="end" font-size="6.9" fill="#1a1a1a">Vendor C4</text>
<text class="s" transform="translate(528.90,293.80) rotate(-90) scale(1,1.0)" text-anchor="end" font-size="6.9" fill="#1a1a1a">PXB-cells</text>
<text class="s" transform="translate(538.20,293.80) rotate(-90) scale(1,1.0)" text-anchor="end" font-size="6.9" fill="#1a1a1a">HepG2</text>
<text transform="translate(530.9,287.6) scale(0.92,1)" font-size="6.0" fill="#444">n.d.</text>
<rect x="60.00" y="437.00" width="4.0" height="5.90" fill="#f29a9a"/>
<rect x="69.40" y="433.60" width="4.0" height="9.30" fill="#f29a9a"/>
<rect x="78.90" y="418.50" width="4.0" height="24.40" fill="#de5050"/>
<rect x="88.10" y="427.00" width="4.0" height="15.90" fill="#de5050"/>
<rect x="97.50" y="403.50" width="4.0" height="39.40" fill="#de5050"/>
<rect x="106.90" y="408.00" width="4.0" height="34.90" fill="#de5050"/>
<rect x="116.20" y="390.50" width="4.0" height="52.40" fill="#ff0000"/>
<rect x="125.20" y="419.50" width="4.0" height="23.40" fill="#f99a40"/>
<line x1="51.1" y1="377.1" x2="128.5" y2="377.1" stroke="#5bd22f" stroke-width="2.6"/>
<path d="M50.50 429.10H55.10M52.80 429.10V439.20M50.50 439.20H55.10" stroke="#111" stroke-width="1.3" fill="none"/>
<path d="M59.70 434.00H64.30M62.00 434.00V437.90M59.70 437.90H64.30" stroke="#111" stroke-width="1.3" fill="none"/>
<path d="M69.10 429.90H73.70M71.40 429.90V438.50M69.10 438.50H73.70" stroke="#111" stroke-width="1.3" fill="none"/>
<path d="M78.60 417.00H83.20M80.90 417.00V419.50M78.60 419.50H83.20" stroke="#111" stroke-width="1.3" fill="none"/>
<path d="M87.80 423.60H92.40M90.10 423.60V432.30M87.80 432.30H92.40" stroke="#111" stroke-width="1.3" fill="none"/>
<path d="M97.20 401.60H101.80M99.50 401.60V404.70M97.20 404.70H101.80" stroke="#111" stroke-width="1.3" fill="none"/>
<path d="M106.60 405.30H111.20M108.90 405.30V409.60M106.60 409.60H111.20" stroke="#111" stroke-width="1.3" fill="none"/>
<path d="M115.90 388.00H120.50M118.20 388.00V392.30M115.90 392.30H120.50" stroke="#111" stroke-width="1.3" fill="none"/>
<path d="M124.90 415.70H129.50M127.20 415.70V422.70M124.90 422.70H129.50" stroke="#111" stroke-width="1.3" fill="none"/>
<line x1="47.8" y1="359.2" x2="47.8" y2="442.9" stroke="#111" stroke-width="1.35"/>
<line x1="47.129999999999995" y1="442.9" x2="132.0" y2="442.9" stroke="#111" stroke-width="1.65"/>
<line x1="47.8" y1="359.2" x2="49.8" y2="359.2" stroke="#111" stroke-width="1.1"/>
<line x1="47.8" y1="380.125" x2="49.8" y2="380.125" stroke="#111" stroke-width="1.1"/>
<line x1="47.8" y1="401.04999999999995" x2="49.8" y2="401.04999999999995" stroke="#111" stroke-width="1.1"/>
<line x1="47.8" y1="421.97499999999997" x2="49.8" y2="421.97499999999997" stroke="#111" stroke-width="1.1"/>
<text class="s" transform="translate(28.54,362.48) scale(0.92,1)" font-size="8.6" fill="#1a1a1a">10<tspan font-size="5.8" dy="-2.6" dx="0.4">0</tspan></text>
<text class="s" transform="translate(28.54,383.40) scale(0.92,1)" font-size="8.6" fill="#1a1a1a">10<tspan font-size="5.8" dy="-2.6" dx="0.4">1</tspan></text>
<text class="s" transform="translate(28.54,404.33) scale(0.92,1)" font-size="8.6" fill="#1a1a1a">10<tspan font-size="5.8" dy="-2.6" dx="0.6">-</tspan><tspan font-size="5.8" dx="2.0">2</tspan></text>
<text class="s" transform="translate(28.54,425.25) scale(0.92,1)" font-size="8.6" fill="#1a1a1a">10<tspan font-size="5.8" dy="-2.6" dx="0.6">-</tspan><tspan font-size="5.8" dx="2.0">3</tspan></text>
<text class="s" transform="translate(28.54,446.18) scale(0.92,1)" font-size="8.6" fill="#1a1a1a">10<tspan font-size="5.8" dy="-2.6" dx="0.6">-</tspan><tspan font-size="5.8" dx="2.0">4</tspan></text>
<text x="76.3" y="344.3" text-anchor="middle" font-size="7.75" font-weight="bold" fill="#111" stroke="#111" stroke-width="0.25">CYP2D6</text>
<text class="s" transform="translate(54.80,447.30) rotate(-90) scale(1,1.0)" text-anchor="end" font-size="6.9" fill="#1a1a1a">Vendor A</text>
<text class="s" transform="translate(64.00,447.30) rotate(-90) scale(1,1.0)" text-anchor="end" font-size="6.9" fill="#1a1a1a">Vendor B1</text>
<text class="s" transform="translate(73.40,447.30) rotate(-90) scale(1,1.0)" text-anchor="end" font-size="6.9" fill="#1a1a1a">Vendor B2</text>
<text class="s" transform="translate(82.90,447.30) rotate(-90) scale(1,1.0)" text-anchor="end" font-size="6.9" fill="#1a1a1a">Vendor C1</text>
<text class="s" transform="translate(92.10,447.30) rotate(-90) scale(1,1.0)" text-anchor="end" font-size="6.9" fill="#1a1a1a">Vendor C2</text>
<text class="s" transform="translate(101.50,447.30) rotate(-90) scale(1,1.0)" text-anchor="end" font-size="6.9" fill="#1a1a1a">Vendor C3</text>
<text class="s" transform="translate(110.90,447.30) rotate(-90) scale(1,1.0)" text-anchor="end" font-size="6.9" fill="#1a1a1a">Vendor C4</text>
<text class="s" transform="translate(120.20,447.30) rotate(-90) scale(1,1.0)" text-anchor="end" font-size="6.9" fill="#1a1a1a">PXB-cells</text>
<text class="s" transform="translate(129.20,447.30) rotate(-90) scale(1,1.0)" text-anchor="end" font-size="6.9" fill="#1a1a1a">HepG2</text>
<rect x="185.20" y="420.00" width="4.0" height="22.90" fill="#fcdcdc"/>
<rect x="194.80" y="384.00" width="4.0" height="58.90" fill="#f29a9a"/>
<rect x="204.20" y="385.00" width="4.0" height="57.90" fill="#f29a9a"/>
<rect x="214.10" y="395.00" width="4.0" height="47.90" fill="#de5050"/>
<rect x="223.60" y="394.50" width="4.0" height="48.40" fill="#de5050"/>
<rect x="233.10" y="395.00" width="4.0" height="47.90" fill="#de5050"/>
<rect x="243.00" y="387.50" width="4.0" height="55.40" fill="#de5050"/>
<rect x="252.50" y="374.50" width="4.0" height="68.40" fill="#ff0000"/>
<rect x="261.90" y="441.00" width="4.0" height="1.90" fill="#f99a40"/>
<line x1="186.1" y1="376.5" x2="265.1" y2="376.5" stroke="#5bd22f" stroke-width="2.6"/>
<rect x="184.80" y="418.50" width="4.8" height="2.0" fill="#111"/>
<path d="M194.50 381.40H199.10M196.80 381.40V384.70M194.50 384.70H199.10" stroke="#111" stroke-width="1.3" fill="none"/>
<path d="M203.90 381.40H208.50M206.20 381.40V385.50M203.90 385.50H208.50" stroke="#111" stroke-width="1.3" fill="none"/>
<rect x="213.70" y="393.50" width="4.8" height="2.0" fill="#111"/>
<rect x="223.20" y="392.80" width="4.8" height="2.0" fill="#111"/>
<path d="M232.80 390.90H237.40M235.10 390.90V395.80M232.80 395.80H237.40" stroke="#111" stroke-width="1.3" fill="none"/>
<rect x="242.60" y="386.00" width="4.8" height="2.0" fill="#111"/>
<path d="M252.20 372.40H256.80M254.50 372.40V375.70M252.20 375.70H256.80" stroke="#111" stroke-width="1.3" fill="none"/>
<path d="M261.60 438.40H266.20M263.90 438.40V442.40M261.60 442.40H266.20" stroke="#111" stroke-width="1.3" fill="none"/>
<line x1="182.5" y1="359.2" x2="182.5" y2="442.9" stroke="#111" stroke-width="1.35"/>
<line x1="181.83" y1="442.9" x2="269.0" y2="442.9" stroke="#111" stroke-width="1.65"/>
<line x1="182.5" y1="359.2" x2="184.5" y2="359.2" stroke="#111" stroke-width="1.1"/>
<line x1="182.5" y1="375.94" x2="184.5" y2="375.94" stroke="#111" stroke-width="1.1"/>
<line x1="182.5" y1="392.68" x2="184.5" y2="392.68" stroke="#111" stroke-width="1.1"/>
<line x1="182.5" y1="409.41999999999996" x2="184.5" y2="409.41999999999996" stroke="#111" stroke-width="1.1"/>
<line x1="182.5" y1="426.15999999999997" x2="184.5" y2="426.15999999999997" stroke="#111" stroke-width="1.1"/>
<text class="s" transform="translate(162.34,362.98) scale(0.92,1)" font-size="8.6" fill="#1a1a1a">10<tspan font-size="5.8" dy="-2.6" dx="0.4">1</tspan></text>
<text class="s" transform="translate(162.34,379.72) scale(0.92,1)" font-size="8.6" fill="#1a1a1a">10<tspan font-size="5.8" dy="-2.6" dx="0.4">0</tspan></text>
<text class="s" transform="translate(162.34,396.46) scale(0.92,1)" font-size="8.6" fill="#1a1a1a">10<tspan font-size="5.8" dy="-2.6" dx="0.6">-</tspan><tspan font-size="5.8" dx="2.0">1</tspan></text>
<text class="s" transform="translate(162.34,413.20) scale(0.92,1)" font-size="8.6" fill="#1a1a1a">10<tspan font-size="5.8" dy="-2.6" dx="0.6">-</tspan><tspan font-size="5.8" dx="2.0">2</tspan></text>
<text class="s" transform="translate(162.34,429.94) scale(0.92,1)" font-size="8.6" fill="#1a1a1a">10<tspan font-size="5.8" dy="-2.6" dx="0.6">-</tspan><tspan font-size="5.8" dx="2.0">3</tspan></text>
<text class="s" transform="translate(162.34,446.68) scale(0.92,1)" font-size="8.6" fill="#1a1a1a">10<tspan font-size="5.8" dy="-2.6" dx="0.6">-</tspan><tspan font-size="5.8" dx="2.0">4</tspan></text>
<text x="212.7" y="344.3" text-anchor="middle" font-size="7.75" font-weight="bold" fill="#111" stroke="#111" stroke-width="0.25">CYP3A4</text>
<text class="s" transform="translate(189.20,447.30) rotate(-90) scale(1,1.0)" text-anchor="end" font-size="6.9" fill="#1a1a1a">Vendor A</text>
<text class="s" transform="translate(198.80,447.30) rotate(-90) scale(1,1.0)" text-anchor="end" font-size="6.9" fill="#1a1a1a">Vendor B1</text>
<text class="s" transform="translate(208.20,447.30) rotate(-90) scale(1,1.0)" text-anchor="end" font-size="6.9" fill="#1a1a1a">Vendor B2</text>
<text class="s" transform="translate(218.10,447.30) rotate(-90) scale(1,1.0)" text-anchor="end" font-size="6.9" fill="#1a1a1a">Vendor C1</text>
<text class="s" transform="translate(227.60,447.30) rotate(-90) scale(1,1.0)" text-anchor="end" font-size="6.9" fill="#1a1a1a">Vendor C2</text>
<text class="s" transform="translate(237.10,447.30) rotate(-90) scale(1,1.0)" text-anchor="end" font-size="6.9" fill="#1a1a1a">Vendor C3</text>
<text class="s" transform="translate(247.00,447.30) rotate(-90) scale(1,1.0)" text-anchor="end" font-size="6.9" fill="#1a1a1a">Vendor C4</text>
<text class="s" transform="translate(256.50,447.30) rotate(-90) scale(1,1.0)" text-anchor="end" font-size="6.9" fill="#1a1a1a">PXB-cells</text>
<text class="s" transform="translate(265.90,447.30) rotate(-90) scale(1,1.0)" text-anchor="end" font-size="6.9" fill="#1a1a1a">HepG2</text>
<rect x="321.20" y="392.00" width="4.0" height="50.90" fill="#fcdcdc"/>
<rect x="331.10" y="390.90" width="4.0" height="52.00" fill="#f29a9a"/>
<rect x="340.30" y="392.50" width="4.0" height="50.40" fill="#f29a9a"/>
<rect x="350.10" y="388.60" width="4.0" height="54.30" fill="#de5050"/>
<rect x="359.70" y="393.20" width="4.0" height="49.70" fill="#de5050"/>
<rect x="369.20" y="376.00" width="4.0" height="66.90" fill="#de5050"/>
<rect x="379.00" y="374.60" width="4.0" height="68.30" fill="#de5050"/>
<rect x="388.80" y="387.90" width="4.0" height="55.00" fill="#ff0000"/>
<rect x="398.40" y="430.50" width="4.0" height="12.40" fill="#f99a40"/>
<line x1="321.7" y1="389.9" x2="401.1" y2="389.9" stroke="#5bd22f" stroke-width="2.6"/>
<rect x="320.80" y="390.85" width="4.8" height="1.1" fill="#111"/>
<rect x="339.90" y="391.45" width="4.8" height="1.1" fill="#111"/>
<rect x="349.70" y="387.45" width="4.8" height="1.1" fill="#111"/>
<rect x="359.30" y="391.95" width="4.8" height="1.3" fill="#111"/>
<path d="M368.90 372.60H373.50M371.20 372.60V377.80M368.90 377.80H373.50" stroke="#111" stroke-width="1.3" fill="none"/>
<rect x="378.60" y="372.90" width="4.8" height="2.0" fill="#111"/>
<rect x="388.40" y="386.80" width="4.8" height="1.0" fill="#111"/>
<rect x="398.00" y="428.90" width="4.8" height="2.0" fill="#111"/>
<line x1="318.5" y1="359.2" x2="318.5" y2="442.9" stroke="#111" stroke-width="1.35"/>
<line x1="317.83" y1="442.9" x2="405.2" y2="442.9" stroke="#111" stroke-width="1.65"/>
<line x1="318.5" y1="359.2" x2="320.5" y2="359.2" stroke="#111" stroke-width="1.1"/>
<line x1="318.5" y1="375.94" x2="320.5" y2="375.94" stroke="#111" stroke-width="1.1"/>
<line x1="318.5" y1="392.68" x2="320.5" y2="392.68" stroke="#111" stroke-width="1.1"/>
<line x1="318.5" y1="409.41999999999996" x2="320.5" y2="409.41999999999996" stroke="#111" stroke-width="1.1"/>
<line x1="318.5" y1="426.15999999999997" x2="320.5" y2="426.15999999999997" stroke="#111" stroke-width="1.1"/>
<text class="s" transform="translate(298.34,362.98) scale(0.92,1)" font-size="8.6" fill="#1a1a1a">10<tspan font-size="5.8" dy="-2.6" dx="0.4">2</tspan></text>
<text class="s" transform="translate(298.34,379.72) scale(0.92,1)" font-size="8.6" fill="#1a1a1a">10<tspan font-size="5.8" dy="-2.6" dx="0.4">1</tspan></text>
<text class="s" transform="translate(298.34,396.46) scale(0.92,1)" font-size="8.6" fill="#1a1a1a">10<tspan font-size="5.8" dy="-2.6" dx="0.4">0</tspan></text>
<text class="s" transform="translate(298.34,413.20) scale(0.92,1)" font-size="8.6" fill="#1a1a1a">10<tspan font-size="5.8" dy="-2.6" dx="0.6">-</tspan><tspan font-size="5.8" dx="2.0">1</tspan></text>
<text class="s" transform="translate(298.34,429.94) scale(0.92,1)" font-size="8.6" fill="#1a1a1a">10<tspan font-size="5.8" dy="-2.6" dx="0.6">-</tspan><tspan font-size="5.8" dx="2.0">2</tspan></text>
<text class="s" transform="translate(298.34,446.68) scale(0.92,1)" font-size="8.6" fill="#1a1a1a">10<tspan font-size="5.8" dy="-2.6" dx="0.6">-</tspan><tspan font-size="5.8" dx="2.0">3</tspan></text>
<text x="349.1" y="344.3" text-anchor="middle" font-size="7.75" font-weight="bold" fill="#111" stroke="#111" stroke-width="0.25">CYP3A5</text>
<text class="s" transform="translate(325.20,447.30) rotate(-90) scale(1,1.0)" text-anchor="end" font-size="6.9" fill="#1a1a1a">Vendor A</text>
<text class="s" transform="translate(335.10,447.30) rotate(-90) scale(1,1.0)" text-anchor="end" font-size="6.9" fill="#1a1a1a">Vendor B1</text>
<text class="s" transform="translate(344.30,447.30) rotate(-90) scale(1,1.0)" text-anchor="end" font-size="6.9" fill="#1a1a1a">Vendor B2</text>
<text class="s" transform="translate(354.10,447.30) rotate(-90) scale(1,1.0)" text-anchor="end" font-size="6.9" fill="#1a1a1a">Vendor C1</text>
<text class="s" transform="translate(363.70,447.30) rotate(-90) scale(1,1.0)" text-anchor="end" font-size="6.9" fill="#1a1a1a">Vendor C2</text>
<text class="s" transform="translate(373.20,447.30) rotate(-90) scale(1,1.0)" text-anchor="end" font-size="6.9" fill="#1a1a1a">Vendor C3</text>
<text class="s" transform="translate(383.00,447.30) rotate(-90) scale(1,1.0)" text-anchor="end" font-size="6.9" fill="#1a1a1a">Vendor C4</text>
<text class="s" transform="translate(392.80,447.30) rotate(-90) scale(1,1.0)" text-anchor="end" font-size="6.9" fill="#1a1a1a">PXB-cells</text>
<text class="s" transform="translate(402.40,447.30) rotate(-90) scale(1,1.0)" text-anchor="end" font-size="6.9" fill="#1a1a1a">HepG2</text>
<rect x="456.90" y="379.00" width="4.0" height="63.90" fill="#f7b7b7"/>
<rect x="466.60" y="365.00" width="4.0" height="77.90" fill="#f29a9a"/>
<rect x="476.00" y="366.00" width="4.0" height="76.90" fill="#f29a9a"/>
<rect x="486.00" y="395.00" width="4.0" height="47.90" fill="#de5050"/>
<rect x="495.50" y="420.00" width="4.0" height="22.90" fill="#de5050"/>
<rect x="505.00" y="416.00" width="4.0" height="26.90" fill="#de5050"/>
<rect x="514.60" y="416.00" width="4.0" height="26.90" fill="#de5050"/>
<rect x="524.40" y="374.50" width="4.0" height="68.40" fill="#ff0000"/>
<rect x="533.90" y="435.50" width="4.0" height="7.40" fill="#f99a40"/>
<line x1="457.5" y1="400.8" x2="536.8" y2="400.8" stroke="#5bd22f" stroke-width="2.6"/>
<path d="M456.60 376.80H461.20M458.90 376.80V379.90M456.60 379.90H461.20" stroke="#111" stroke-width="1.3" fill="none"/>
<path d="M466.30 363.30H470.90M468.60 363.30V365.70M466.30 365.70H470.90" stroke="#111" stroke-width="1.3" fill="none"/>
<path d="M475.70 363.90H480.30M478.00 363.90V366.40M475.70 366.40H480.30" stroke="#111" stroke-width="1.3" fill="none"/>
<path d="M485.70 393.40H490.30M488.00 393.40V395.60M485.70 395.60H490.30" stroke="#111" stroke-width="1.3" fill="none"/>
<rect x="495.10" y="418.30" width="4.8" height="2.0" fill="#111"/>
<path d="M504.70 412.60H509.30M507.00 412.60V419.60M504.70 419.60H509.30" stroke="#111" stroke-width="1.3" fill="none"/>
<rect x="514.20" y="414.20" width="4.8" height="2.0" fill="#111"/>
<path d="M524.10 371.20H528.70M526.40 371.20V375.70M524.10 375.70H528.70" stroke="#111" stroke-width="1.3" fill="none"/>
<path d="M533.60 432.50H538.20M535.90 432.50V436.20M533.60 436.20H538.20" stroke="#111" stroke-width="1.3" fill="none"/>
<line x1="454.2" y1="359.2" x2="454.2" y2="442.9" stroke="#111" stroke-width="1.35"/>
<line x1="453.53" y1="442.9" x2="540.9" y2="442.9" stroke="#111" stroke-width="1.65"/>
<line x1="454.2" y1="359.2" x2="456.2" y2="359.2" stroke="#111" stroke-width="1.1"/>
<line x1="454.2" y1="380.125" x2="456.2" y2="380.125" stroke="#111" stroke-width="1.1"/>
<line x1="454.2" y1="401.04999999999995" x2="456.2" y2="401.04999999999995" stroke="#111" stroke-width="1.1"/>
<line x1="454.2" y1="421.97499999999997" x2="456.2" y2="421.97499999999997" stroke="#111" stroke-width="1.1"/>
<text class="s" transform="translate(434.04,362.78) scale(0.92,1)" font-size="8.6" fill="#1a1a1a">10<tspan font-size="5.8" dy="-2.6" dx="0.4">3</tspan></text>
<text class="s" transform="translate(434.04,383.70) scale(0.92,1)" font-size="8.6" fill="#1a1a1a">10<tspan font-size="5.8" dy="-2.6" dx="0.4">2</tspan></text>
<text class="s" transform="translate(434.04,404.63) scale(0.92,1)" font-size="8.6" fill="#1a1a1a">10<tspan font-size="5.8" dy="-2.6" dx="0.4">1</tspan></text>
<text class="s" transform="translate(434.04,425.55) scale(0.92,1)" font-size="8.6" fill="#1a1a1a">10<tspan font-size="5.8" dy="-2.6" dx="0.4">0</tspan></text>
<text class="s" transform="translate(434.04,446.48) scale(0.92,1)" font-size="8.6" fill="#1a1a1a">10<tspan font-size="5.8" dy="-2.6" dx="0.6">-</tspan><tspan font-size="5.8" dx="2.0">1</tspan></text>
<text x="484.2" y="344.3" text-anchor="middle" font-size="7.75" font-weight="bold" fill="#111" stroke="#111" stroke-width="0.25">CYP3A7</text>
<text class="s" transform="translate(460.90,447.30) rotate(-90) scale(1,1.0)" text-anchor="end" font-size="6.9" fill="#1a1a1a">Vendor A</text>
<text class="s" transform="translate(470.60,447.30) rotate(-90) scale(1,1.0)" text-anchor="end" font-size="6.9" fill="#1a1a1a">Vendor B1</text>
<text class="s" transform="translate(480.00,447.30) rotate(-90) scale(1,1.0)" text-anchor="end" font-size="6.9" fill="#1a1a1a">Vendor B2</text>
<text class="s" transform="translate(490.00,447.30) rotate(-90) scale(1,1.0)" text-anchor="end" font-size="6.9" fill="#1a1a1a">Vendor C1</text>
<text class="s" transform="translate(499.50,447.30) rotate(-90) scale(1,1.0)" text-anchor="end" font-size="6.9" fill="#1a1a1a">Vendor C2</text>
<text class="s" transform="translate(509.00,447.30) rotate(-90) scale(1,1.0)" text-anchor="end" font-size="6.9" fill="#1a1a1a">Vendor C3</text>
<text class="s" transform="translate(518.60,447.30) rotate(-90) scale(1,1.0)" text-anchor="end" font-size="6.9" fill="#1a1a1a">Vendor C4</text>
<text class="s" transform="translate(528.40,447.30) rotate(-90) scale(1,1.0)" text-anchor="end" font-size="6.9" fill="#1a1a1a">PXB-cells</text>
<text class="s" transform="translate(537.90,447.30) rotate(-90) scale(1,1.0)" text-anchor="end" font-size="6.9" fill="#1a1a1a">HepG2</text>
<text class="b" transform="translate(15.30,317.40) rotate(-90) scale(1,1.02)" text-anchor="middle" font-size="12.2" fill="#111">relative expression</text>
</svg>
</body></html>
